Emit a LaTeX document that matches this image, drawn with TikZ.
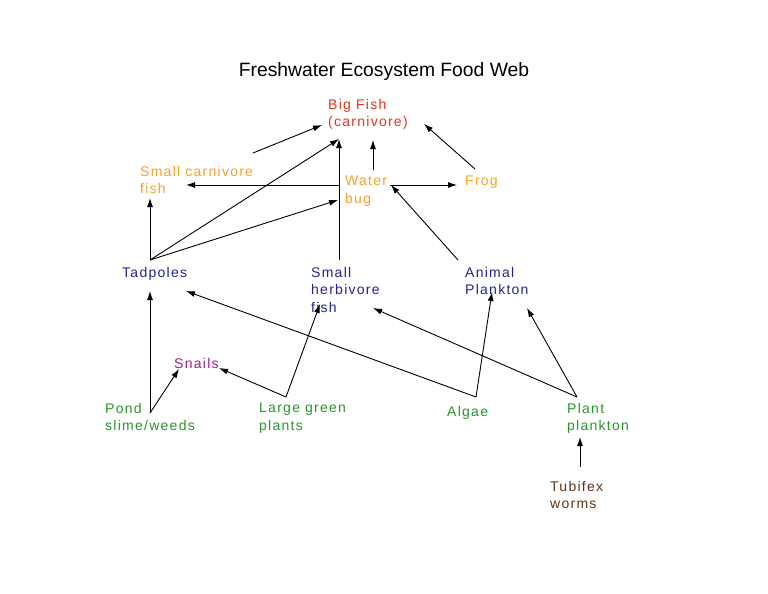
\documentclass[tikz,border=0pt]{standalone}
\usepackage{fontspec}
\setmainfont{Liberation Sans}
\newfontfamily\spaced[LetterSpace=9]{Liberation Sans}
\definecolor{cred}{RGB}{222,52,30}
\definecolor{corange}{RGB}{245,160,45}
\definecolor{cnavy}{RGB}{35,35,140}
\definecolor{cgreen}{RGB}{40,150,40}
\definecolor{cpurple}{RGB}{160,30,130}
\definecolor{cbrown}{RGB}{100,50,20}
\usetikzlibrary{arrows.meta}
\begin{document}
\begin{tikzpicture}[x=1pt,y=-1pt,
  lbl/.style={anchor=north west,inner sep=0pt,align=left,font=\spaced\fontsize{14}{17.5}\selectfont},
  arr/.style={-{Latex[length=9pt,width=6pt]},line width=0.9pt}]
\useasboundingbox (0,0) rectangle (768,594);
\node[font=\fontsize{19.3}{22}\selectfont] (title) at (384,72) {Freshwater Ecosystem Food Web};
\node[lbl,text=cred] (big) at (328,99) {Big Fish\\(carnivore)};
\node[lbl,text=corange] (scf) at (140,166) {Small carnivore\\fish};
\node[lbl,text=corange] (bug) at (345,176) {Water\\bug};
\node[lbl,text=corange] (frog) at (465,176) {Frog};
\node[lbl,text=cnavy] (tad) at (122,267) {Tadpoles};
\node[lbl,text=cnavy] (shf) at (311,267) {Small\\herbivore\\fish};
\node[lbl,text=cnavy] (ap) at (465,267) {Animal\\Plankton};
\node[lbl,text=cpurple] (snails) at (174,358) {Snails};
\node[lbl,text=cgreen] (pond) at (105,403) {Pond\\slime/weeds};
\node[lbl,text=cgreen] (lgp) at (259,403) {Large green\\plants};
\node[lbl,text=cgreen] (algae) at (447,406) {Algae};
\node[lbl,text=cgreen] (pp) at (567,403) {Plant\\plankton};
\node[lbl,text=cbrown] (tub) at (550,481) {Tubifex\\worms};
% coordinates
\coordinate (a1s) at (253,153); \coordinate (a1e) at (322,125);
\coordinate (tadA) at (150,260);
\coordinate (bigL) at (339,139); \coordinate (bugL) at (338,200);
\coordinate (scfB) at (150,198);
\coordinate (shfT) at (339,260);
\coordinate (bugM) at (339,185); \coordinate (scfR) at (186,185);
\coordinate (bugT) at (373,170); \coordinate (bigB) at (373,140);
\coordinate (frogA) at (475,169); \coordinate (bigR) at (424,124);
\coordinate (bugR) at (390,185); \coordinate (frogL) at (457,185);
\coordinate (apA) at (458,260); \coordinate (bugC) at (391,185);
\coordinate (pondA) at (150,413); \coordinate (tadB) at (150,291);
\coordinate (snB) at (179,369);
\coordinate (lgpA) at (286,397); \coordinate (snR) at (219,368); \coordinate (shfB) at (320,304);
\coordinate (algA) at (476,397); \coordinate (tadR) at (186,291); \coordinate (apB) at (492,292);
\coordinate (ppA) at (577,397); \coordinate (shfR) at (373,308); \coordinate (apR) at (527,308);
\coordinate (tubA) at (580,467); \coordinate (ppB) at (580,437);
\draw[arr] (a1s) -- (a1e);
\draw[arr] (tadA) -- (bigL);
\draw[arr] (tadA) -- (bugL);
\draw[arr] (tadA) -- (scfB);
\draw[arr] (shfT) -- (bigL);
\draw[arr] (bugM) -- (scfR);
\draw[arr] (bugT) -- (bigB);
\draw[arr] (frogA) -- (bigR);
\draw[arr] (bugR) -- (frogL);
\draw[arr] (apA) -- (bugC);
\draw[arr] (pondA) -- (tadB);
\draw[arr] (pondA) -- (snB);
\draw[arr] (lgpA) -- (snR);
\draw[arr] (lgpA) -- (shfB);
\draw[arr] (algA) -- (tadR);
\draw[arr] (algA) -- (apB);
\draw[arr] (ppA) -- (shfR);
\draw[arr] (ppA) -- (apR);
\draw[arr] (tubA) -- (ppB);
\end{tikzpicture}
\end{document}
